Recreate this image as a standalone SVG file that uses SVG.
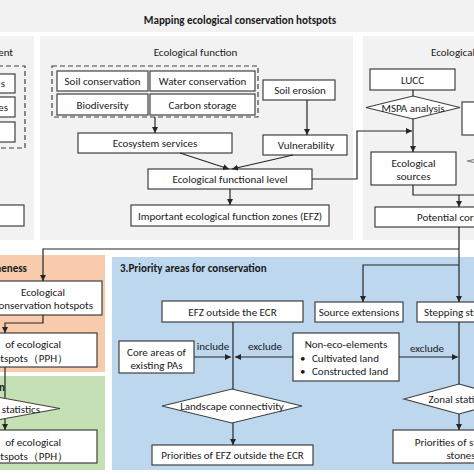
<svg xmlns="http://www.w3.org/2000/svg" width="474" height="474" viewBox="0 0 474 474">
<style>
.bg{fill:#f2f2f2}
.box{fill:#fff;stroke:#404040;stroke-width:1.2}
.dash{fill:none;stroke:#404040;stroke-width:1.2;stroke-dasharray:5,3}
.t{font-family:Carlito,"Liberation Sans Narrow","Liberation Sans",sans-serif;font-size:11px;fill:#1a1a1a;text-anchor:middle}
.s{text-anchor:start}
.e{text-anchor:end}
.b{font-weight:bold}
.ln{fill:none;stroke:#262626;stroke-width:1.2}
</style>
<defs>
<marker id="ah" viewBox="0 0 6 6" refX="6" refY="3" markerWidth="6" markerHeight="6" markerUnits="userSpaceOnUse" orient="auto">
<path d="M0,0 L6,3 L0,6 z" fill="#262626"/>
</marker>
</defs>
<rect width="474" height="474" fill="#fff"/>
<!-- panels -->
<rect class="bg" x="0" y="0" width="474" height="32"/>
<rect class="bg" x="0" y="36" width="34" height="204"/>
<rect class="bg" x="40" y="36" width="313" height="204"/>
<rect class="bg" x="363" y="36" width="111" height="204"/>
<rect x="0" y="255" width="105" height="117" fill="#f8cbad"/>
<rect x="0" y="376" width="105" height="94" fill="#c5e0b4"/>
<rect x="112" y="257" width="362" height="213" fill="#bdd7ee"/>
<!-- titles -->
<text class="t b" x="240" y="24">Mapping ecological conservation hotspots</text>
<text class="t e" x="13" y="56">ent</text>
<text class="t" x="195.5" y="56">Ecological function</text>
<text class="t s" x="431" y="56">Ecological</text>
<text class="t b e" x="27" y="272">eneness</text>
<text class="t b e" x="5" y="391">n</text>
<text class="t b s" x="120" y="272">3.Priority areas for conservation</text>
<!-- left panel -->
<g id="left-group">
<rect class="dash" x="-10" y="66" width="35" height="82"/>
<rect class="box" x="-10" y="74" width="25" height="19"/>
<text class="t e" x="5" y="87">s</text>
<rect class="box" x="-10" y="97" width="25" height="20"/>
<text class="t e" x="8" y="111">es</text>
<rect class="box" x="-10" y="122" width="25" height="20"/>
</g>
<g id="left-bottom"><rect class="box" x="-10" y="205" width="34" height="21"/></g>
<!-- middle panel -->
<g id="es-group"><rect class="dash" x="52" y="66" width="206" height="51"/></g>
<g id="soil-cons"><rect class="box" x="57" y="71" width="91" height="20"/><text class="t" x="102.5" y="85">Soil conservation</text></g>
<g id="water-cons"><rect class="box" x="150" y="71" width="105" height="20"/><text class="t" x="202.5" y="85">Water conservation</text></g>
<g id="biodiv"><rect class="box" x="57" y="94" width="91" height="21"/><text class="t" x="102.5" y="108.5">Biodiversity</text></g>
<g id="carbon"><rect class="box" x="150" y="94" width="105" height="21"/><text class="t" x="202.5" y="108.5">Carbon storage</text></g>
<g id="soil-erosion"><rect class="box" x="263" y="80" width="72" height="20"/><text class="t" x="300" y="94">Soil erosion</text></g>
<g id="eco-services"><rect class="box" x="78" y="133" width="154" height="20"/><text class="t" x="155" y="147">Ecosystem services</text></g>
<g id="vulnerability"><rect class="box" x="263" y="135" width="84" height="20"/><text class="t" x="306" y="149">Vulnerability</text></g>
<g id="efl"><rect class="box" x="148" y="169" width="164" height="20"/><text class="t" x="230" y="183">Ecological functional level</text></g>
<g id="efz"><rect class="box" x="131" y="205" width="198" height="21"/><text class="t" x="230" y="219.5">Important ecological function zones (EFZ)</text></g>
<!-- right panel -->
<g id="lucc"><rect class="box" x="370" y="69" width="85" height="21"/><text class="t" x="412.5" y="83.5">LUCC</text></g>
<g id="mspa"><polygon class="box" points="366,107.5 413,96 460,107.5 413,119"/><text class="t" x="413" y="111.5">MSPA analysis</text></g>
<g id="right-box"><rect class="box" x="462" y="102" width="40" height="33"/></g>
<g id="right-diamond"><polygon class="box" points="467,161 520,150 573,161 520,172" style="stroke:#808080"/></g>
<g id="eco-sources"><rect class="box" x="371" y="152" width="85" height="33"/><text class="t" x="413.5" y="167">Ecological</text><text class="t" x="413.5" y="180">sources</text></g>
<g id="potential"><rect class="box" x="375" y="207" width="125" height="20"/><text class="t s" x="417" y="221">Potential corridors</text></g>
<!-- orange panel -->
<g id="ech"><rect class="box" x="-10" y="281" width="112" height="34"/><text class="t" x="43" y="296">Ecological</text><text class="t e" x="93" y="309">conservation hotspots</text></g>
<g id="pph1"><rect class="box" x="-10" y="333" width="107" height="34"/><text class="t e" x="61" y="348">of ecological</text><text class="t e" x="68" y="362">hotspots（PPH）</text></g>
<!-- green panel -->
<g id="zonal-left"><polygon class="box" points="-60,408.5 0,397.5 60,408.5 0,419.5"/><text class="t e" x="40" y="412.5">Zonal statistics</text></g>
<g id="pph2"><rect class="box" x="-10" y="430" width="107" height="33"/><text class="t e" x="61" y="446">of ecological</text><text class="t e" x="68" y="460">hotspots（PPH）</text></g>
<!-- blue panel -->
<g id="efz-out"><rect class="box" x="162" y="301" width="141" height="21"/><text class="t" x="232.5" y="315.5">EFZ outside the ECR</text></g>
<g id="source-ext"><rect class="box" x="315" y="302" width="88" height="20"/><text class="t" x="359" y="316">Source extensions</text></g>
<g id="stepping"><rect class="box" x="417" y="302" width="85" height="20"/><text class="t s" x="424" y="316">Stepping stones</text></g>
<g id="core"><rect class="box" x="119" y="341" width="75" height="32"/><text class="t" x="156.5" y="356">Core areas of</text><text class="t" x="156.5" y="369">existing PAs</text></g>
<g id="non-eco"><rect class="box" x="293" y="333" width="106" height="48"/><text class="t" x="346" y="348">Non-eco-elements</text><text class="t s" x="300" y="362">•</text><text class="t s" x="312" y="362">Cultivated land</text><text class="t s" x="300" y="375">•</text><text class="t s" x="312" y="375">Constructed land</text></g>
<g id="landscape"><polygon class="box" points="162,406 232,389 302,406 232,423"/><text class="t" x="232" y="410">Landscape connectivity</text></g>
<g id="pri-efz"><rect class="box" x="152" y="445" width="161" height="20"/><text class="t" x="232.5" y="459">Priorities of EFZ outside the ECR</text></g>
<g id="zonal-right"><polygon class="box" points="404,399 459,384 514,399 459,414"/><text class="t" x="461" y="403">Zonal statistics</text></g>
<g id="pri-step"><rect class="box" x="393" y="430" width="110" height="33"/><text class="t" x="461" y="446">Priorities of stepping</text><text class="t" x="461" y="459">stones</text></g>
<!-- connectors -->
<g id="connectors">
<path class="ln" d="M155,117 V133" marker-end="url(#ah)"/>
<path class="ln" d="M307,100 V135" marker-end="url(#ah)"/>
<path class="ln" d="M180,153 L229,169" marker-end="url(#ah)"/>
<path class="ln" d="M293,155 L232,169" marker-end="url(#ah)"/>
<path class="ln" d="M230,189 V205" marker-end="url(#ah)"/>
<path class="ln" d="M312,179 H357 V131 H412" marker-end="url(#ah)"/>
<path class="ln" d="M413,90 V96"/>
<path class="ln" d="M413,119 V152" marker-end="url(#ah)"/>
<path class="ln" d="M413,185 V195 H474"/>
<path class="ln" d="M459,195 V207" marker-end="url(#ah)"/>
<path class="ln" d="M459,227 V302" marker-end="url(#ah)"/>
<path class="ln" d="M459,249 H43 V281" marker-end="url(#ah)"/>
<path class="ln" d="M459,265 H363 V302" marker-end="url(#ah)"/>
<path class="ln" d="M43,315 V323 H5 V333" marker-end="url(#ah)"/>
<path class="ln" d="M5,367 V398"/>
<path class="ln" d="M5,419 V430" marker-end="url(#ah)"/>
<path class="ln" d="M233,322 V389"/>
<path class="ln" d="M194,357 H231" marker-end="url(#ah)"/>
<path class="ln" d="M293,357 H235" marker-end="url(#ah)"/>
<path class="ln" d="M233,423 V445" marker-end="url(#ah)"/>
<path class="ln" d="M459,322 V384"/>
<path class="ln" d="M399,357 H458" marker-end="url(#ah)"/>
<path class="ln" d="M459,414 V430" marker-end="url(#ah)"/>
<text class="t" x="213" y="350">include</text>
<text class="t" x="265" y="350">exclude</text>
<text class="t" x="427" y="352">exclude</text>
</g>
</svg>
